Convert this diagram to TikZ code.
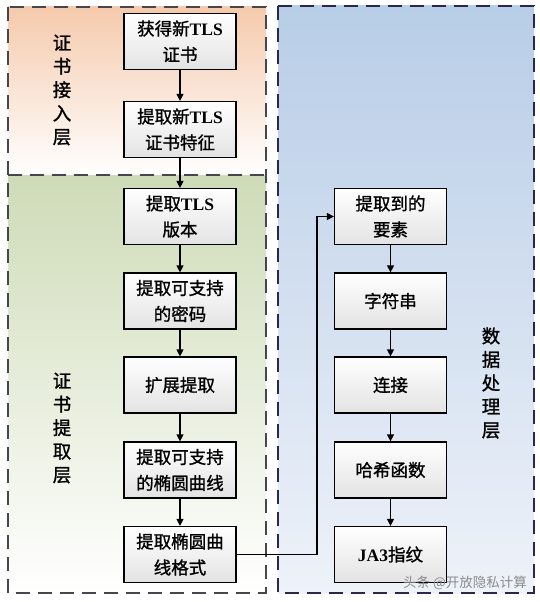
\documentclass[tikz,border=0pt]{standalone}
\usepackage{fontspec}
\setmainfont{Noto Sans CJK SC}[AutoFakeBold=1.2]
\newfontfamily\latin{Liberation Serif}[BoldFont={Liberation Serif Bold}]
\usetikzlibrary{arrows.meta}
\definecolor{peach}{RGB}{245,202,172}
\definecolor{sage}{RGB}{206,219,183}
\definecolor{sky}{RGB}{184,205,231}
\definecolor{skylow}{RGB}{238,242,249}
\definecolor{frame}{RGB}{70,70,78}
\definecolor{navy}{RGB}{42,38,78}
\tikzset{
  stage/.style={draw=black,line width=1.2pt,top color=white,bottom color=black!11,
    minimum width=112pt,minimum height=56pt,inner sep=0pt,align=center,
    font=\fontsize{17.5}{26}\selectfont\bfseries},
  border/.style={line width=1.8pt,dash pattern=on 14pt off 8pt},
  tag/.style={align=center,font=\fontsize{18.5}{23.5}\selectfont\bfseries},
  flow/.style={line width=1.2pt,-{Triangle[length=7pt,width=7pt]}}
}
\begin{document}
\begin{tikzpicture}[x=1pt,y=-1pt]
\useasboundingbox (0,0) rectangle (540,602);
\fill[white] (0,0) rectangle (540,602);
% layers
\shade[top color=peach,bottom color=white] (8,7) rectangle (266,175);
\shade[top color=sage,bottom color=white] (8,175) rectangle (266,593);
\shade[top color=sky,bottom color=skylow] (278,6) rectangle (534,593);
\draw[border,frame] (8,7) rectangle (266,593);
\draw[border,frame] (8,175) -- (266,175);
\draw[border,navy] (278,6) rectangle (534,593);
\node[tag] (accessTag) at (62,90) {证\\书\\接\\入\\层};
\node[tag] (extractTag) at (62,428) {证\\书\\提\\取\\层};
\node[tag] (dataTag) at (491,383) {数\\据\\处\\理\\层};
% left column
\node[stage] (getCert) at (180,41.5) {获得新{\latin TLS}\\证书};
\node[stage] (certFeat) at (180,129.5) {提取新{\latin TLS}\\证书特征};
\node[stage] (version) at (180,216.5) {提取{\latin TLS}\\版本};
\node[stage] (cipher) at (180,301) {提取可支持\\的密码};
\node[stage] (extension) at (180,385) {扩展提取};
\node[stage] (curve) at (180,470) {提取可支持\\的椭圆曲线};
\node[stage] (curveFmt) at (180,554.5) {提取椭圆曲\\线格式};
% right column
\node[stage] (elements) at (390.5,216.5) {提取到的\\要素};
\node[stage] (string) at (390.5,301) {字符串};
\node[stage] (concat) at (390.5,385) {连接};
\node[stage] (hash) at (390.5,470) {哈希函数};
\node[stage] (finger) at (390.5,554.5) {{\latin JA3}指纹};
\draw[flow] (getCert) -- (certFeat);
\draw[flow] (certFeat) -- (version);
\draw[flow] (version) -- (cipher);
\draw[flow] (cipher) -- (extension);
\draw[flow] (extension) -- (curve);
\draw[flow] (curve) -- (curveFmt);
\draw[flow] (elements) -- (string);
\draw[flow] (string) -- (concat);
\draw[flow] (concat) -- (hash);
\draw[flow] (hash) -- (finger);
\coordinate (bend) at (317,216.5);
\draw[flow] (curveFmt.east) -| (bend) -- (elements.west);
\node[font=\fontsize{13.5}{15}\selectfont,text=black!45] (mark) at (465,583) {头条 @开放隐私计算};
\end{tikzpicture}
\end{document}
